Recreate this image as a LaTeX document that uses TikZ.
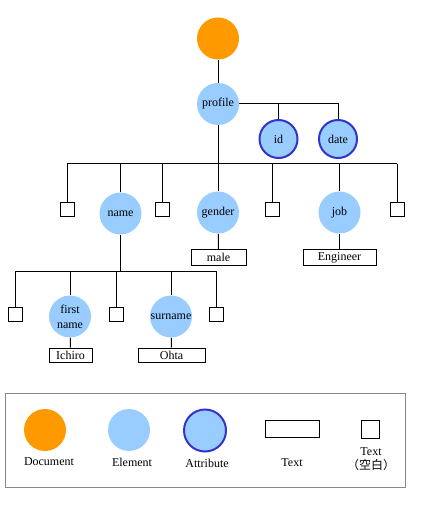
\documentclass[tikz,border=0pt]{standalone}
\usepackage{fontspec}
\setmainfont{Liberation Serif}
\newfontfamily\cjk{Noto Sans CJK JP}
\definecolor{docorange}{HTML}{FF9900}
\definecolor{elblue}{HTML}{99CCFF}
\definecolor{attrborder}{HTML}{3333CC}
\definecolor{legendgray}{HTML}{888888}
\begin{document}
\begin{tikzpicture}[x=0.75pt,y=-0.75pt,
  every node/.style={font=\fontsize{9}{10}\selectfont, inner sep=0pt},
  link/.style={draw=black, line width=0.75pt},
  docnode/.style={circle, fill=docorange, minimum size=31.5pt},
  elnode/.style={circle, fill=elblue, minimum size=31.5pt, align=center},
  attrnode/.style={circle, fill=elblue, draw=attrborder, line width=1.5pt, minimum size=28.5pt},
  textbox/.style={draw=black, line width=0.75pt, fill=white, minimum height=11.25pt},
  blankbox/.style={draw=black, line width=0.75pt, fill=white, minimum size=10.5pt},
  lbl/.style={anchor=center}
]
\useasboundingbox (0,0) rectangle (420,505);
% tree nodes
\node[docnode] (doc) at (218,38.5) {};
\node[elnode] (profile) at (218,104) {profile};
\node[attrnode] (id) at (278.5,139) {id};
\node[attrnode] (date) at (338,139) {date};
\node[blankbox] (b1) at (67,210) {};
\node[elnode] (name) at (120.5,213.5) {name};
\node[blankbox] (b2) at (162,210) {};
\node[elnode] (gender) at (218,212.5) {gender};
\node[blankbox] (b3) at (272,210) {};
\node[elnode] (job) at (339.5,212.5) {job};
\node[blankbox] (b4) at (397,210) {};
\node[textbox, minimum width=41.25pt] (male) at (218.5,257.5) {male};
\node[textbox, minimum width=54.75pt] (eng) at (339.5,257.5) {Engineer};
\node[blankbox] (c1) at (15,314) {};
\node[elnode, font=\fontsize{9}{11}\selectfont] (first) at (70,316.5) {first\\name};
\node[blankbox] (c2) at (116,314) {};
\node[elnode] (surname) at (171,316.5) {surname};
\node[blankbox] (c3) at (216,314) {};
\node[textbox, minimum width=32.25pt, minimum height=10.5pt] (ichiro) at (70.5,355) {Ichiro};
\node[textbox, minimum width=50.25pt, minimum height=10.5pt] (ohta) at (171.5,355) {Ohta};
\coordinate (busA) at (218,164);
\coordinate (busB) at (120.5,271);
% connectors
\draw[link] (doc) -- (profile);
\draw[link] (profile.east) -- (profile -| date) -- (date.north);
\draw[link] (profile -| id) -- (id.north);
\draw[link] (profile.south) -- (busA);
\draw[link] (b1 |- busA) -- (b4 |- busA);
\foreach \n in {b1,name,b2,gender,b3,job,b4} \draw[link] (\n |- busA) -- (\n.north);
\draw[link] (gender) -- (male);
\draw[link] (job) -- (eng);
\draw[link] (name.south) -- (busB);
\draw[link] (c1 |- busB) -- (c3 |- busB);
\foreach \n in {c1,first,c2,surname,c3} \draw[link] (\n |- busB) -- (\n.north);
\draw[link] (first) -- (ichiro);
\draw[link] (surname) -- (ohta);
% legend
\node[draw=legendgray, line width=0.75pt, minimum width=300pt, minimum height=70.5pt] (legend) at (205,440) {};
\node[docnode] (ldoc) at (45,430) {};
\node[elnode] (lel) at (129,430) {};
\node[attrnode, minimum size=31.5pt] (lattr) at (205,430.5) {};
\node[textbox, minimum width=40.5pt, minimum height=12.75pt] (ltext) at (292,428.5) {};
\node[blankbox, minimum size=13.5pt] (lblank) at (370,429) {};
\node[lbl] (tdoc) at (49,462) {Document};
\node[lbl] (tel) at (132,462) {Element};
\node[lbl] (tattr) at (207,463) {Attribute};
\node[lbl] (ttext) at (292,463) {Text};
\node[lbl, align=center, font=\fontsize{9}{11}\selectfont] (tblank) at (371,459) {Text\\{\cjk （空白）}};
\end{tikzpicture}
\end{document}
